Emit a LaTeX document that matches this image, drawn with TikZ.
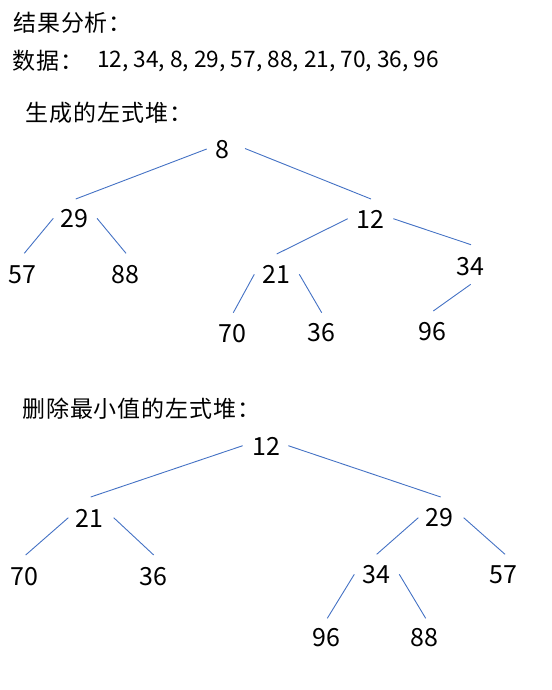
\documentclass[tikz,border=0pt]{standalone}
\usepackage{fontspec}
\setmainfont{Noto Sans CJK SC}
\definecolor{edgeblue}{HTML}{4472C4}
\begin{document}
\begin{tikzpicture}[x=1pt,y=-1pt,
  edge/.style={draw=edgeblue, line width=0.9pt},
  num/.style={inner sep=0pt, font=\fontsize{25}{25}\selectfont},
  head/.style={inner sep=0pt, anchor=west, font=\fontsize{23}{23}\selectfont\addfontfeature{LetterSpace=4}}]
\useasboundingbox (0,0) rectangle (551,690);
% headings
\node[head] (h1) at (13,22.5) {结果分析：};
\node[head] (h2) at (12,61) {数据：};
\node[inner sep=0pt, anchor=base west, font=\fontsize{22.7}{22.7}\selectfont] (data) at (97,68) {12, 34, 8, 29, 57, 88, 21, 70, 36, 96};
\node[head] (h3) at (25.5,113) {生成的左式堆：};
\node[head] (h4) at (22,408.5) {删除最小值的左式堆：};
% tree 1 nodes
\node[num] (a8)  at (222.5,150) {8};
\node[num] (a29) at (74.5,219) {29};
\node[num] (a12) at (370,219) {12};
\node[num] (a57) at (22.5,274.5) {57};
\node[num] (a88) at (125,274.5) {88};
\node[num] (a21) at (276,274.5) {21};
\node[num] (a34) at (470,266.5) {34};
\node[num] (a70) at (232.5,333.5) {70};
\node[num] (a36) at (321,333) {36};
\node[num] (a96) at (432.5,332) {96};
% tree 1 connector ends
\coordinate (a8l) at (206.7,149);   \coordinate (a29t) at (75.7,199);
\coordinate (a8r) at (245,148.5);   \coordinate (a12t) at (371,199);
\coordinate (a29l) at (53.3,218.3); \coordinate (a57t) at (24.3,253.3);
\coordinate (a29r) at (97,218.3);   \coordinate (a88t) at (126,253.3);
\coordinate (a12l) at (347.7,218.7);\coordinate (a21t) at (276.7,254);
\coordinate (a12r) at (393.3,218.7);\coordinate (a34t) at (471,244.7);
\coordinate (a21l) at (254.3,274.3);\coordinate (a70t) at (233.3,312.7);
\coordinate (a21r) at (299.3,274.3);\coordinate (a36t) at (321.7,312.7);
\coordinate (a34b) at (470.7,284.3);\coordinate (a96t) at (433.3,311);
\draw[edge] (a8l) -- (a29t);
\draw[edge] (a8r) -- (a12t);
\draw[edge] (a29l) -- (a57t);
\draw[edge] (a29r) -- (a88t);
\draw[edge] (a12l) -- (a21t);
\draw[edge] (a12r) -- (a34t);
\draw[edge] (a21l) -- (a70t);
\draw[edge] (a21r) -- (a36t);
\draw[edge] (a34b) -- (a96t);
% tree 2 nodes
\node[num] (b12) at (266.5,446) {12};
\node[num] (b21) at (89,518) {21};
\node[num] (b29) at (439.5,518) {29};
\node[num] (b70) at (24.5,576.5) {70};
\node[num] (b36) at (153.3,576.5) {36};
\node[num] (b34) at (376,575) {34};
\node[num] (b57) at (503.5,575) {57};
\node[num] (b96) at (326,638) {96};
\node[num] (b88) at (424,638) {88};
% tree 2 connector ends
\coordinate (b12l) at (242.7,445.7); \coordinate (b21t) at (90.7,497);
\coordinate (b12r) at (288.3,445.7); \coordinate (b29t) at (440.7,497);
\coordinate (b21l) at (68.3,517.7);  \coordinate (b70t) at (25.7,555);
\coordinate (b21r) at (113.7,517.7); \coordinate (b36t) at (153.7,555);
\coordinate (b29l) at (418.3,517.7); \coordinate (b34t) at (376.7,554.3);
\coordinate (b29r) at (463.7,517.7); \coordinate (b57t) at (505,554.3);
\coordinate (b34l) at (354.3,574.3); \coordinate (b96t) at (327.3,618.3);
\coordinate (b34r) at (399.3,574.3); \coordinate (b88t) at (425.7,618.3);
\draw[edge] (b12l) -- (b21t);
\draw[edge] (b12r) -- (b29t);
\draw[edge] (b21l) -- (b70t);
\draw[edge] (b21r) -- (b36t);
\draw[edge] (b29l) -- (b34t);
\draw[edge] (b29r) -- (b57t);
\draw[edge] (b34l) -- (b96t);
\draw[edge] (b34r) -- (b88t);
\end{tikzpicture}
\end{document}
